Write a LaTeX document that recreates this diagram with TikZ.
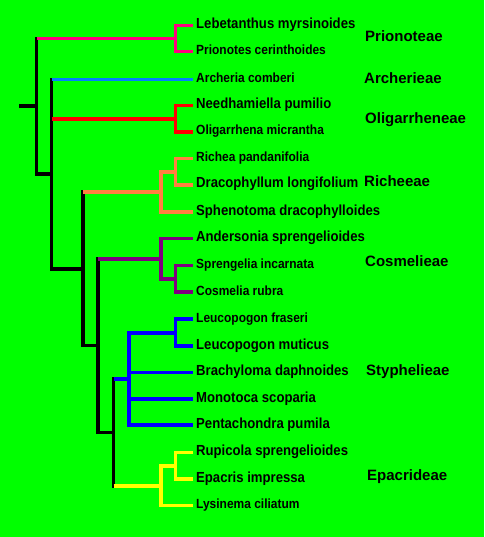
\documentclass[tikz,border=0pt]{standalone}
\usepackage{fontspec}
\setmainfont{Liberation Sans}
\newfontfamily\leaffont[FakeStretch=0.9]{Liberation Sans}
\usepackage{tikz}
\usetikzlibrary{positioning}
\definecolor{colBg}{RGB}{0,255,0}
\definecolor{colPrio}{RGB}{255,0,128}
\definecolor{colArch}{RGB}{0,128,255}
\definecolor{colOlig}{RGB}{255,0,0}
\definecolor{colRich}{RGB}{255,128,64}
\definecolor{colCosm}{RGB}{128,0,128}
\definecolor{colStyp}{RGB}{0,0,255}
\definecolor{colEpac}{RGB}{255,255,0}

\begin{document}
\begin{tikzpicture}[x=1pt,y=-1pt,
  branch/.style={line width=3.4pt},
  bar/.style={line width=3.4pt,line cap=rect},
  taxon/.style={inner sep=0pt,text height=9pt,text depth=3pt,
    font=\leaffont\bfseries\fontsize{13.3}{15}\selectfont},
  taxonwide/.style={taxon,font=\leaffont\bfseries\fontsize{14.6}{16}\selectfont},
  tribe/.style={anchor=base west,inner sep=0pt,font=\bfseries\fontsize{15}{18}\selectfont}]
  \fill[colBg] (0,0) rectangle (484,537);
  \useasboundingbox (0,0) rectangle (484,537);
  \coordinate (lebe) at (193,25.5);
  \coordinate (prin) at (193,51.5);
  \coordinate (arch) at (193,79.5);
  \coordinate (need) at (193,105.5);
  \coordinate (olga) at (193,132);
  \coordinate (rich) at (193,158.5);
  \coordinate (drac) at (193,185);
  \coordinate (sphe) at (193,212);
  \coordinate (ande) at (193,238.5);
  \coordinate (spre) at (193,265.5);
  \coordinate (cosm) at (193,292);
  \coordinate (leuf) at (193,319);
  \coordinate (leum) at (193,346);
  \coordinate (brac) at (193,372.5);
  \coordinate (mono) at (193,399);
  \coordinate (pent) at (193,425);
  \coordinate (rupi) at (193,452.5);
  \coordinate (epac) at (193,479);
  \coordinate (lysi) at (193,505.5);
  \coordinate (base) at (19,106);
  \coordinate (root) at (36.5,106);
  \coordinate (prio) at (175.5,38.5);
  \coordinate (nb) at (51.5,174);
  \coordinate (olig) at (175.5,119);
  \coordinate (nc) at (83,269);
  \coordinate (richA) at (161,192);
  \coordinate (richB) at (175.5,172);
  \coordinate (nd) at (98,345.5);
  \coordinate (cosmA) at (161,259);
  \coordinate (cosmB) at (175.5,279);
  \coordinate (ne) at (113.5,432.5);
  \coordinate (stypA) at (129,379);
  \coordinate (stypB) at (175.5,333);
  \coordinate (epacA) at (161,486);
  \coordinate (epacB) at (175.5,466);

  \draw[bar] (root |- prio) -- (root |- nb);
  \draw[bar] (nb |- arch) -- (nb |- nc);
  \draw[bar] (nc |- richA) -- (nc |- nd);
  \draw[bar] (nd |- cosmA) -- (nd |- ne);
  \draw[bar] (ne |- stypA) -- (ne |- epacA);
  \draw[branch] (base) -- (root);
  \draw[branch] (root |- nb) -- (nb);
  \draw[branch] (nb |- nc) -- (nc);
  \draw[branch] (nc |- nd) -- (nd);
  \draw[branch] (nd |- ne) -- (ne);

  \draw[bar,colPrio] (prio |- lebe) -- (prio |- prin);
  \draw[branch,colPrio] (root |- prio) -- (prio);
  \draw[branch,colPrio] (prio |- lebe) -- (lebe);
  \draw[branch,colPrio] (prio |- prin) -- (prin);

  \draw[branch,colArch] (nb |- arch) -- (arch);

  \draw[bar,colOlig] (olig |- need) -- (olig |- olga);
  \draw[branch,colOlig] (nb |- olig) -- (olig);
  \draw[branch,colOlig] (olig |- need) -- (need);
  \draw[branch,colOlig] (olig |- olga) -- (olga);

  \draw[bar,colRich] (richA |- richB) -- (richA |- sphe);
  \draw[bar,colRich] (richB |- rich) -- (richB |- drac);
  \draw[branch,colRich] (nc |- richA) -- (richA);
  \draw[branch,colRich] (richA |- richB) -- (richB);
  \draw[branch,colRich] (richB |- rich) -- (rich);
  \draw[branch,colRich] (richB |- drac) -- (drac);
  \draw[branch,colRich] (richA |- sphe) -- (sphe);

  \draw[bar,colCosm] (cosmA |- ande) -- (cosmA |- cosmB);
  \draw[bar,colCosm] (cosmB |- spre) -- (cosmB |- cosm);
  \draw[branch,colCosm] (nd |- cosmA) -- (cosmA);
  \draw[branch,colCosm] (cosmA |- ande) -- (ande);
  \draw[branch,colCosm] (cosmA |- cosmB) -- (cosmB);
  \draw[branch,colCosm] (cosmB |- spre) -- (spre);
  \draw[branch,colCosm] (cosmB |- cosm) -- (cosm);

  \draw[bar,colStyp] (stypA |- stypB) -- (stypA |- pent);
  \draw[bar,colStyp] (stypB |- leuf) -- (stypB |- leum);
  \draw[branch,colStyp] (ne |- stypA) -- (stypA);
  \draw[branch,colStyp] (stypA |- stypB) -- (stypB);
  \draw[branch,colStyp] (stypB |- leuf) -- (leuf);
  \draw[branch,colStyp] (stypB |- leum) -- (leum);
  \draw[branch,colStyp] (stypA |- brac) -- (brac);
  \draw[branch,colStyp] (stypA |- mono) -- (mono);
  \draw[branch,colStyp] (stypA |- pent) -- (pent);

  \draw[bar,colEpac] (epacA |- epacB) -- (epacA |- lysi);
  \draw[bar,colEpac] (epacB |- rupi) -- (epacB |- epac);
  \draw[branch,colEpac] (ne |- epacA) -- (epacA);
  \draw[branch,colEpac] (epacA |- epacB) -- (epacB);
  \draw[branch,colEpac] (epacB |- rupi) -- (rupi);
  \draw[branch,colEpac] (epacB |- epac) -- (epac);
  \draw[branch,colEpac] (epacA |- lysi) -- (lysi);

  \node[taxonwide,right=3pt of lebe] (tLebe) {Lebetanthus myrsinoides};
  \node[taxon,right=3pt of prin] (tPrin) {Prionotes cerinthoides};
  \node[taxon,right=3pt of arch] (tArch) {Archeria comberi};
  \node[taxonwide,right=3pt of need] (tNeed) {Needhamiella pumilio};
  \node[taxon,right=3pt of olga] (tOlga) {Oligarrhena micrantha};
  \node[taxon,right=3pt of rich] (tRich) {Richea pandanifolia};
  \node[taxonwide,right=3pt of drac] (tDrac) {Dracophyllum longifolium};
  \node[taxonwide,right=3pt of sphe] (tSphe) {Sphenotoma dracophylloides};
  \node[taxonwide,right=3pt of ande] (tAnde) {Andersonia sprengelioides};
  \node[taxon,right=3pt of spre] (tSpre) {Sprengelia incarnata};
  \node[taxon,right=3pt of cosm] (tCosm) {Cosmelia rubra};
  \node[taxon,right=3pt of leuf] (tLeuf) {Leucopogon fraseri};
  \node[taxonwide,right=3pt of leum] (tLeum) {Leucopogon muticus};
  \node[taxonwide,right=3pt of brac] (tBrac) {Brachyloma daphnoides};
  \node[taxonwide,right=3pt of mono] (tMono) {Monotoca scoparia};
  \node[taxonwide,right=3pt of pent] (tPent) {Pentachondra pumila};
  \node[taxonwide,right=3pt of rupi] (tRupi) {Rupicola sprengelioides};
  \node[taxonwide,right=3pt of epac] (tEpac) {Epacris impressa};
  \node[taxon,right=3pt of lysi] (tLysi) {Lysinema ciliatum};

  \node[tribe] (nPrio) at (365,42) {Prionoteae};
  \node[tribe] (nArch) at (364,83.5) {Archerieae};
  \node[tribe] (nOlig) at (365,124) {Oligarrheneae};
  \node[tribe] (nRich) at (364,186) {Richeeae};
  \node[tribe] (nCosm) at (365,266) {Cosmelieae};
  \node[tribe] (nStyp) at (366,375) {Styphelieae};
  \node[tribe] (nEpac) at (367,480) {Epacrideae};
\end{tikzpicture}
\end{document}
